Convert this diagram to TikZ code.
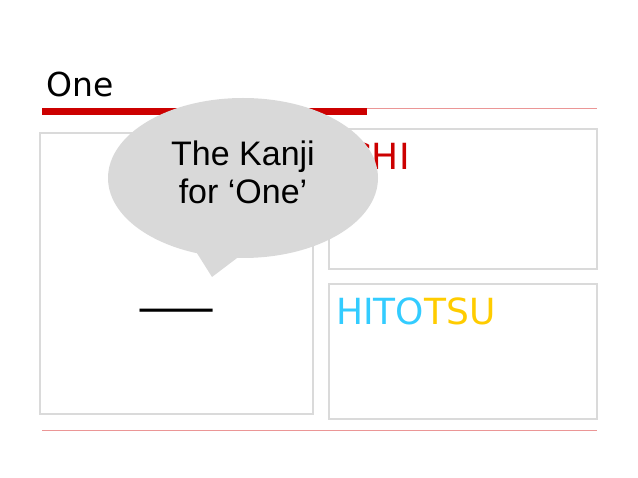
\documentclass[tikz,border=0pt]{standalone}
\usepackage{fontspec}
\setmainfont{Liberation Sans}
\newfontfamily\dv{DejaVu Sans}
\newfontfamily\cjk{Noto Sans CJK JP}
\definecolor{myred}{RGB}{204,0,0}
\definecolor{lred}{RGB}{235,150,150}
\definecolor{boxg}{RGB}{218,218,218}
\definecolor{bub}{RGB}{217,217,217}
\definecolor{cy}{RGB}{51,204,255}
\definecolor{yl}{RGB}{255,204,0}
\begin{document}
\begin{tikzpicture}[x=1pt,y=-1pt,
  panel/.style={draw=boxg,line width=1.5pt}]
\useasboundingbox (0,0) rectangle (638,478);
\node[anchor=base west,inner sep=0,font=\dv\fontsize{33}{33}\selectfont] (title) at (46,97) {One};
\draw[lred,line width=1pt] (367,109) -- (597,109);
\draw[myred,line width=7pt] (42,112) -- (367,112);
\draw[lred,line width=0.8pt] (42,430) -- (597,430);
\draw[panel] (40,133) rectangle (313,414);
\draw[panel] (329,129) rectangle (597,269);
\draw[panel] (329,284) rectangle (597,419);
\node[inner sep=0,xscale=2.1,font=\cjk\fontsize{38}{38}\selectfont] (kanji) at (176,317) {一};
\node[anchor=base west,inner sep=0,font=\dv\fontsize{36}{36}\selectfont,text=myred] (ichi) at (336,170) {ICHI};
\node[anchor=base west,inner sep=0,font=\dv\fontsize{36}{36}\selectfont] (hito) at (336,325) {\textcolor{cy}{HITO}\textcolor{yl}{TSU}};
\fill[bub] (243,178) ellipse [x radius=135,y radius=80];
\fill[bub] (195,250) -- (212,277) -- (245,252) -- cycle;
\node[align=center,font=\fontsize{34}{38}\selectfont] (bubble) at (243,172) {The Kanji\\for ‘One’};
\end{tikzpicture}
\end{document}
